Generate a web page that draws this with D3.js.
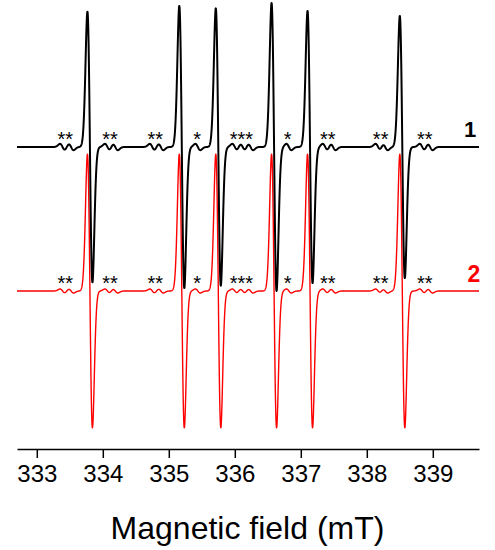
<!DOCTYPE html>
<html>
<head>
<meta charset="utf-8">
<script src="https://cdn.jsdelivr.net/npm/d3@7"></script>
<style>
  html, body { margin: 0; padding: 0; background: #fff; }
  svg { display: block; }
</style>
</head>
<body>
<svg id="chart" width="495" height="550"></svg>
<script>
// ---- data ----
const fieldDomain = [332.7, 339.7];             // mT
const tickValues = [333, 334, 335, 336, 337, 338, 339];
const axisTitle = "Magnetic field (mT)";

// six main hyperfine lines (centre field, mT)
const linePositions = [333.805, 335.197, 335.75, 336.595, 337.14, 338.538];
// derivative amplitudes (arb. units) of each line
const trace1Amplitudes = [0.94, 0.98, 0.963, 1.0, 0.945, 0.91];
const trace2Amplitudes = [0.95, 0.95, 0.95, 0.95, 0.95, 0.95];
const lineSigma = 0.038;                          // mT, gaussian width

// weak satellite lines marked with asterisks
const satellitePositions = [333.39, 333.52, 334.07, 334.19, 334.75, 334.88,
  335.44, 336.00, 336.12, 336.24, 336.82, 337.37, 337.49, 338.17, 338.28, 338.84, 338.96];
const trace1SatAmp = 0.022;
const trace2SatAmp = 0.014;

// vertical offsets of the two spectra
const traceOffsets = [1, 0];
const traceNames = ["1", "2"];
const traceColors = ["#000000", "#ff0000"];

// asterisk annotations
const starLabels = ["**", "**", "**", "*", "***", "*", "**", "**", "**"];
const starFields = [333.43, 334.11, 334.795, 335.43, 336.10, 336.80, 337.41, 338.21, 338.88];

// ---- build spectra ----
const step = 0.002;
const fields = d3.range(fieldDomain[0], fieldDomain[1] + step / 2, step);
function dGauss(b, b0, amp, s) {
  const u = (b - b0) / s;
  // normalised so that the positive peak equals amp (low-field side up)
  return -amp * u * Math.exp(-(u * u - 1) / 2);
}
function spectrum(amps, satAmp, offset) {
  return fields.map(b => {
    let v = offset;
    linePositions.forEach((p, i) => { v += dGauss(b, p, amps[i], lineSigma); });
    satellitePositions.forEach(p => { v += dGauss(b, p, satAmp, lineSigma); });
    return [b, v];
  });
}
const traces = [
  spectrum(trace1Amplitudes, trace1SatAmp, traceOffsets[0]),
  spectrum(trace2Amplitudes, trace2SatAmp, traceOffsets[1])
];

// ---- drawing ----
const svg = d3.select("#chart");
const x = d3.scaleLinear().domain(fieldDomain).range([17, 479]);
const y = d3.scaleLinear().domain([-1, 2]).range([435, 3]);

const line = d3.line().x(d => x(d[0])).y(d => y(d[1]));

// red (2) first, black (1) on top
svg.append("path").datum(traces[1])
  .attr("d", line).attr("fill", "none")
  .attr("stroke", traceColors[1]).attr("stroke-width", 1.4)
  .attr("stroke-linejoin", "round");
svg.append("path").datum(traces[0])
  .attr("d", line).attr("fill", "none")
  .attr("stroke", traceColors[0]).attr("stroke-width", 2)
  .attr("stroke-linejoin", "round");

// asterisks
traceOffsets.forEach(off => {
  svg.append("g").selectAll("text").data(starLabels).join("text")
    .attr("x", (d, i) => x(starFields[i]))
    .attr("y", y(off) - 1)
    .attr("text-anchor", "middle")
    .attr("font-family", "Liberation Sans, Arial, sans-serif")
    .attr("font-size", 20)
    .attr("fill", "#000")
    .text(d => d);
});

// trace labels
svg.append("text").attr("x", 470).attr("y", 137)
  .attr("text-anchor", "middle")
  .attr("font-family", "Liberation Sans, Arial, sans-serif")
  .attr("font-weight", "bold").attr("font-size", 22)
  .attr("fill", traceColors[0]).text(traceNames[0]);
svg.append("text").attr("x", 474).attr("y", 282)
  .attr("text-anchor", "middle")
  .attr("font-family", "Liberation Sans, Arial, sans-serif")
  .attr("font-weight", "bold").attr("font-size", 23)
  .attr("fill", traceColors[1]).text(traceNames[1]);

// axis
const axis = d3.axisBottom(x).tickValues(tickValues)
  .tickSize(9).tickSizeOuter(0).tickPadding(7).tickFormat(d3.format("d"));
const gAxis = svg.append("g").attr("transform", "translate(0,449)").call(axis);
gAxis.select(".domain").attr("stroke-width", 1.5);
gAxis.selectAll(".tick line").attr("stroke-width", 1.5);
gAxis.selectAll(".tick text")
  .attr("font-family", "Liberation Sans, Arial, sans-serif")
  .attr("font-size", 24).attr("fill", "#000");

svg.append("text").attr("x", 247.5).attr("y", 539)
  .attr("text-anchor", "middle")
  .attr("font-family", "Liberation Sans, Arial, sans-serif")
  .attr("font-size", 32).attr("fill", "#000")
  .text(axisTitle);
</script>
</body>
</html>
